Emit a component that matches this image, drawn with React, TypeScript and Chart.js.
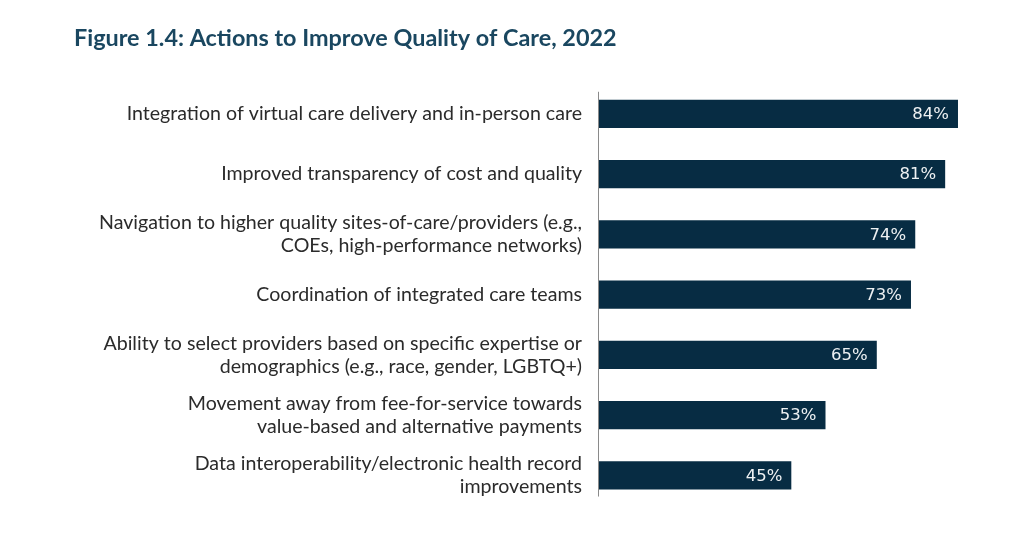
import React, { useEffect, useRef } from "react";
import { Chart, registerables } from "chart.js";

Chart.register(...registerables);

const titleText = "Figure 1.4: Actions to Improve Quality of Care, 2022";

const categories: string[][] = [
  ["Integration of virtual care delivery and in-person care"],
  ["Improved transparency of cost and quality"],
  ["Navigation to higher quality sites-of-care/providers (e.g.,", "COEs, high-performance networks)"],
  ["Coordination of integrated care teams"],
  ["Ability to select providers based on specific expertise or", "demographics (e.g., race, gender, LGBTQ+)"],
  ["Movement away from fee-for-service towards", "value-based and alternative payments"],
  ["Data interoperability/electronic health record", "improvements"],
];

const shares: number[] = [84, 81, 74, 73, 65, 53, 45];

const BAR_COLOR = "#072c43";
const FONT = "Lato, 'Open Sans', sans-serif";
const VALUE_FONT = "'DejaVu Sans', Verdana, sans-serif";

// Draws the value text inside the end of each bar.
const valueLabels = {
  id: "valueLabels",
  afterDatasetsDraw(chart: any) {
    const ctx = chart.ctx;
    const meta = chart.getDatasetMeta(0);
    ctx.save();
    ctx.fillStyle = "#eef1f3";
    ctx.font = `16.5px ${VALUE_FONT}`;
    ctx.textAlign = "right";
    ctx.textBaseline = "middle";
    meta.data.forEach((bar: any, i: number) => {
      const v = chart.data.datasets[0].data[i];
      ctx.fillText(`${v}%`, bar.x - 9, bar.y + 1);
    });
    ctx.restore();
  },
};

// Thin vertical category axis line, slightly inset from the plot edges.
const axisLine = {
  id: "axisLine",
  afterDatasetsDraw(chart: any) {
    const { ctx, chartArea } = chart;
    ctx.save();
    ctx.strokeStyle = "#8a8a8a";
    ctx.lineWidth = 1;
    ctx.beginPath();
    ctx.moveTo(chartArea.left - 0.5, chartArea.top + 8);
    ctx.lineTo(chartArea.left - 0.5, chartArea.bottom - 9);
    ctx.stroke();
    ctx.restore();
  },
};

export default function App() {
  const canvasRef = useRef<HTMLCanvasElement | null>(null);

  useEffect(() => {
    if (!canvasRef.current) return;
    const chart = new Chart(canvasRef.current, {
      type: "bar",
      data: {
        labels: categories,
        datasets: [
          {
            data: shares,
            backgroundColor: BAR_COLOR,
            barPercentage: 0.47,
            categoryPercentage: 1,
          },
        ],
      },
      options: {
        indexAxis: "y",
        animation: false,
        responsive: true,
        maintainAspectRatio: false,
        layout: { padding: { left: 74, right: 19, top: 11, bottom: 27 } },
        plugins: {
          legend: { display: false },
          tooltip: { enabled: false },
          title: {
            display: true,
            text: titleText,
            align: "start",
            color: "#1a4760",
            font: { family: FONT, size: 23.4, weight: "bold" },
            padding: { top: 13, bottom: 31.7 },
          },
        },
        scales: {
          x: {
            display: false,
            min: 0,
            max: 95,
          },
          y: {
            grid: { display: false, drawTicks: false },
            border: { display: false },
            afterFit(scale: any) {
              scale.width = 525;
            },
            ticks: {
              padding: 17,
              color: "#2b2b2b",
              font: { family: FONT, size: 19.6, lineHeight: 1.17 },
            },
          },
        },
      },
      plugins: [valueLabels, axisLine],
    });
    return () => chart.destroy();
  }, []);

  return (
    <div style={{ position: "fixed", left: 0, top: 0, width: 1024, height: 534, background: "#ffffff" }}>
      <canvas ref={canvasRef} />
    </div>
  );
}
